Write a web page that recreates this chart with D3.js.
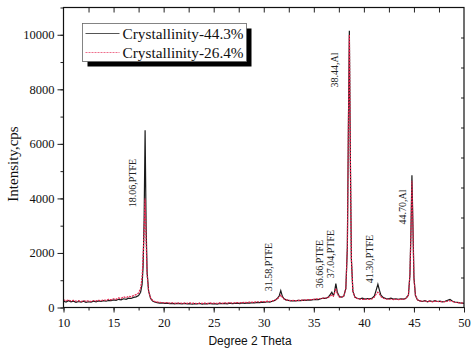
<!DOCTYPE html>
<html>
<head>
<meta charset="utf-8">
<script src="https://cdn.jsdelivr.net/npm/d3@7"></script>
<style>
  body { margin: 0; background: #fff; }
  svg { display: block; }
</style>
</head>
<body>
<svg id="chart" width="474" height="353"></svg>
<script>
// 2 theta grid (deg) and intensities (cps)
const twoTheta = [
  10.00, 10.25, 10.50, 10.75, 11.00, 11.25, 11.50, 11.75, 12.00, 12.25,
  12.50, 12.75, 13.00, 13.25, 13.50, 13.75, 14.00, 14.25, 14.50, 14.75,
  15.00, 15.25, 15.50, 15.75, 16.00, 16.25, 16.50, 16.75, 17.00, 17.25,
  17.50, 17.70, 17.85, 17.95, 18.05, 18.15, 18.25, 18.35, 18.50, 18.70,
  18.90, 19.10, 19.35, 19.60, 19.85, 20.10, 20.35, 20.60, 20.85, 21.10,
  21.35, 21.60, 21.85, 22.10, 22.35, 22.60, 22.85, 23.10, 23.35, 23.60,
  23.85, 24.10, 24.35, 24.60, 24.85, 25.10, 25.35, 25.60, 25.85, 26.10,
  26.35, 26.60, 26.85, 27.10, 27.35, 27.60, 27.85, 28.10, 28.35, 28.60,
  28.85, 29.10, 29.35, 29.60, 29.85, 30.10, 30.35, 30.60, 30.85, 31.10,
  31.35, 31.55, 31.70, 31.85, 32.00, 32.20, 32.45, 32.70, 32.95, 33.20,
  33.45, 33.70, 33.95, 34.20, 34.45, 34.70, 34.95, 35.20, 35.45, 35.70,
  35.95, 36.20, 36.45, 36.65, 36.80, 36.95, 37.05, 37.20, 37.35, 37.55,
  37.80, 38.00, 38.20, 38.35, 38.45, 38.55, 38.65, 38.75, 38.90, 39.10,
  39.35, 39.60, 39.85, 40.10, 40.35, 40.60, 40.85, 41.05, 41.20, 41.40,
  41.55, 41.70, 41.95, 42.20, 42.45, 42.70, 42.95, 43.20, 43.45, 43.70,
  43.95, 44.20, 44.45, 44.60, 44.70, 44.80, 44.90, 45.00, 45.15, 45.35,
  45.60, 45.85, 46.10, 46.35, 46.60, 46.85, 47.10, 47.35, 47.60, 47.85,
  48.10, 48.35, 48.60, 48.85, 49.10, 49.35, 49.60, 49.85, 50.00
]
const cryst443 = [
  230, 200, 250, 210, 230, 190, 220, 200, 230, 190,
  210, 200, 230, 210, 240, 220, 250, 230, 260, 250,
  280, 260, 300, 280, 320, 300, 340, 330, 370, 390,
  440, 560, 850, 1500, 3200, 6500, 3000, 1300, 600, 330,
  240, 200, 180, 160, 170, 150, 160, 140, 150, 130,
  150, 140, 130, 150, 130, 140, 120, 140, 130, 150,
  120, 140, 130, 150, 130, 140, 120, 150, 140, 150,
  130, 160, 140, 150, 160, 140, 170, 150, 170, 160,
  180, 170, 190, 180, 200, 190, 210, 200, 230, 260,
  330, 430, 620, 420, 330, 280, 260, 240, 250, 240,
  260, 250, 270, 260, 280, 270, 290, 300, 290, 320,
  340, 330, 380, 480, 560, 440, 520, 880, 560, 400,
  380, 420, 700, 2200, 6500, 10150, 5500, 1800, 600, 380,
  330, 320, 340, 310, 330, 320, 350, 420, 600, 850,
  640, 450, 360, 330, 320, 340, 310, 320, 300, 320,
  310, 340, 450, 1200, 2800, 4850, 3000, 1100, 450, 280,
  240, 220, 250, 210, 240, 220, 250, 220, 230, 210,
  230, 260, 300, 230, 200, 190, 170, 160, 150
]
const cryst264 = [
  280, 250, 270, 240, 260, 230, 250, 220, 250, 230,
  240, 220, 250, 240, 260, 250, 280, 260, 300, 280,
  320, 300, 350, 330, 390, 360, 410, 390, 440, 470,
  530, 700, 1100, 1800, 2800, 4000, 2500, 1200, 600, 350,
  260, 220, 200, 190, 180, 170, 180, 160, 170, 160,
  150, 170, 150, 160, 150, 170, 150, 160, 140, 160,
  150, 160, 140, 170, 150, 160, 150, 170, 150, 170,
  160, 180, 160, 170, 180, 170, 180, 190, 180, 200,
  190, 200, 210, 200, 220, 210, 230, 220, 240, 260,
  320, 380, 450, 380, 320, 280, 270, 250, 260, 250,
  260, 270, 270, 280, 290, 290, 300, 310, 320, 330,
  340, 350, 370, 420, 460, 420, 500, 700, 500, 380,
  380, 420, 700, 2200, 6500, 10000, 5500, 1800, 600, 380,
  330, 310, 300, 300, 310, 300, 320, 380, 480, 560,
  500, 400, 340, 310, 300, 310, 290, 300, 290, 300,
  300, 330, 450, 1200, 2700, 4650, 2900, 1050, 450, 280,
  240, 230, 240, 220, 230, 210, 230, 220, 210, 220,
  210, 230, 250, 220, 190, 180, 170, 160, 160
]
const seriesNames = ['Crystallinity-44.3%', 'Crystallinity-26.4%']
const xTicks = [10, 15, 20, 25, 30, 35, 40, 45, 50]
const yTicks = [0, 2000, 4000, 6000, 8000, 10000]
// peak labels, anchored in data units
const peakLabels = [
  { text: '18.06,PTFE', x: 17.25, y: 4565 },
  { text: '31.58,PTFE', x: 30.85, y: 1485 },
  { text: '36.66,PTFE', x: 35.95, y: 1595 },
  { text: '37.04,PTFE', x: 37.05, y: 1960 },
  { text: '38.44,Al',   x: 37.45, y: 8710 },
  { text: '41.30,PTFE', x: 40.95, y: 1780 },
  { text: '44.70,Al',   x: 44.25, y: 3685 }
]

const serif = '"Liberation Serif", "Times New Roman", serif'
const W = 474, H = 353
const m = { left: 63.5, right: 10, top: 7.5, bottom: 45.5 }
const iw = W - m.left - m.right, ih = H - m.top - m.bottom

const svg = d3.select('#chart')
const g = svg.append('g').attr('transform', `translate(${m.left},${m.top})`)

const x = d3.scaleLinear().domain([10, 50]).range([0, iw])
const y = d3.scaleLinear().domain([0, 11000]).range([ih, 0])

// bottom axis: majors + minors, outward
g.append('g').attr('transform', `translate(0,${ih})`)
  .call(d3.axisBottom(x).tickValues(d3.range(10, 50.1, 2.5)).tickSize(3).tickFormat(''))
  .call(a => a.select('.domain').remove())
const xAx = g.append('g').attr('transform', `translate(0,${ih})`)
  .call(d3.axisBottom(x).tickValues(xTicks).tickSize(5).tickPadding(6).tickFormat(d3.format('d')))
xAx.select('.domain').remove()
xAx.selectAll('text').attr('font-family', serif).attr('font-size', 12.5).attr('fill', '#111')

// left axis
g.append('g')
  .call(d3.axisLeft(y).tickValues(d3.range(0, 11001, 1000)).tickSize(3).tickFormat(''))
  .call(a => a.select('.domain').remove())
const yAx = g.append('g')
  .call(d3.axisLeft(y).tickValues(yTicks).tickSize(6).tickPadding(3).tickFormat(d3.format('d')))
yAx.select('.domain').remove()
yAx.selectAll('text').attr('font-family', serif).attr('font-size', 12.5).attr('fill', '#111')

// mirrored top / right ticks, pointing inward
g.append('g')
  .call(d3.axisBottom(x).tickValues(d3.range(12.5, 50, 2.5)).tickSize(5).tickFormat(''))
  .call(a => a.select('.domain').remove())
g.append('g').attr('transform', `translate(${iw},0)`)
  .call(d3.axisLeft(y).tickValues(d3.range(1100, 11000, 1100)).tickSize(3).tickFormat(''))
  .call(a => a.select('.domain').remove())

g.selectAll('.tick line').attr('stroke', '#222').attr('stroke-width', 1)

// traces
const line = d3.line().x(d => x(d[0])).y(d => y(d[1]))
const blackPts = twoTheta.map((t, i) => [t, cryst443[i]])
const redPts = twoTheta.map((t, i) => [t, cryst264[i]])

g.append('path').datum(blackPts).attr('d', line)
  .attr('fill', 'none').attr('stroke', '#1a1a1a').attr('stroke-width', 1.2)
g.append('path').datum(redPts).attr('d', line)
  .attr('fill', 'none').attr('stroke', '#e2224c').attr('stroke-width', 1.2)
  .attr('stroke-dasharray', '2,1')

// frame
g.append('rect').attr('width', iw).attr('height', ih)
  .attr('fill', 'none').attr('stroke', '#111').attr('stroke-width', 1.2)

// peak labels
g.selectAll('.peak').data(peakLabels).enter().append('text')
  .attr('class', 'peak')
  .attr('transform', d => `translate(${x(d.x)},${y(d.y)}) rotate(-90)`)
  .attr('text-anchor', 'middle')
  .attr('font-family', serif).attr('font-size', 10).attr('fill', '#222')
  .text(d => d.text)

// legend with drop shadow
const lg = svg.append('g').attr('transform', 'translate(82.5,23.5)')
lg.append('rect').attr('x', 5).attr('y', 5).attr('width', 164).attr('height', 38).attr('fill', '#000')
lg.append('rect').attr('width', 164).attr('height', 38)
  .attr('fill', '#fff').attr('stroke', '#666').attr('stroke-width', 0.8)
const legendStyle = [
  { stroke: '#555', dash: null },
  { stroke: '#ee6f8c', dash: '2,1' }
]
seriesNames.forEach((name, i) => {
  const yy = 10 + i * 19
  lg.append('line').attr('x1', 3).attr('x2', 37).attr('y1', yy).attr('y2', yy)
    .attr('stroke', legendStyle[i].stroke).attr('stroke-width', 1)
    .attr('stroke-dasharray', legendStyle[i].dash)
  lg.append('text').attr('x', 40).attr('y', yy + 5)
    .attr('font-family', serif).attr('font-size', 15.3).attr('fill', '#111')
    .text(name)
})

// axis titles
svg.append('text')
  .attr('transform', `translate(18,164) rotate(-90)`)
  .attr('text-anchor', 'middle')
  .attr('font-family', serif).attr('font-size', 15).attr('fill', '#111')
  .text('Intensity,cps')
svg.append('text')
  .attr('x', 250).attr('y', 345)
  .attr('text-anchor', 'middle')
  .attr('font-family', '"Liberation Sans", Arial, sans-serif').attr('font-size', 12).attr('fill', '#111')
  .text('Degree 2 Theta')
</script>
</body>
</html>
